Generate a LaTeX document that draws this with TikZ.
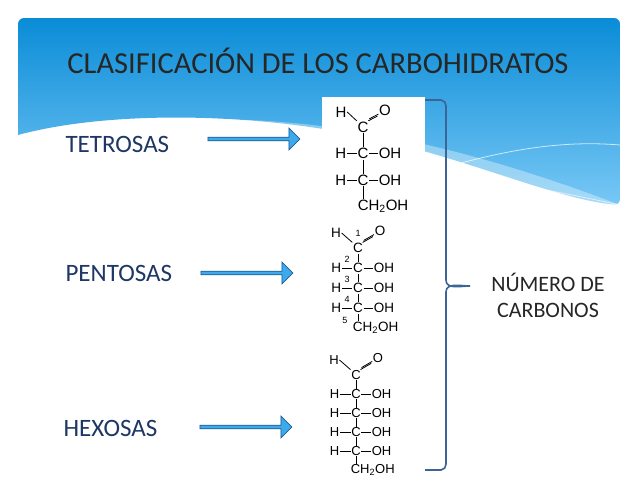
\documentclass[tikz,border=0pt]{standalone}
\usepackage{fontspec}
\setmainfont{Carlito}
\newfontfamily\chemfont{Liberation Sans}
\usetikzlibrary{shapes.arrows}
\definecolor{lbl}{RGB}{30,55,100}
\definecolor{skyA}{RGB}{10,140,215}
\definecolor{skyB}{RGB}{120,200,245}
\definecolor{arrf}{RGB}{60,170,235}
\definecolor{arrd}{RGB}{30,90,150}
\definecolor{brc}{RGB}{60,100,150}
\tikzset{
 lab/.style={font=\fontsize{25}{27}\selectfont, text=lbl, anchor=west},
 blk/.style={single arrow, draw=arrd, fill=arrf, minimum height=92pt, minimum width=22pt, single arrow head extend=2pt, single arrow head indent=0pt, inner sep=0pt, line width=0.8pt},
 atom/.style={font=\chemfont\fontsize{#1}{14}\selectfont, inner sep=0.6pt},
 atom/.default=14,
 bd/.style={line width=0.8pt},
}
% cx, y0, dy, n, prefix, fontsize
\newcommand\sugar[6]{%
 \node[atom=#6] (#5c0) at (#1,#2) {C};
 \node[atom=#6] (#5h0) at (#1-22,#2-15) {H};
 \node[atom=#6] (#5o0) at (#1+22,#2-17) {O};
 \draw[bd] (#5h0.east) -- (#5c0.north west);
 \draw[bd] ([xshift=-1pt]#5c0.north east) -- ([xshift=-1pt]#5o0.south west);
 \draw[bd] ([yshift=2pt]#5c0.north east) -- ([yshift=2pt]#5o0.south west);
 \foreach \k [evaluate=\k as \pk using int(\k-1)] in {1,...,#4}{
  \node[atom=#6] (#5c\k) at (#1,#2+#3*\k) {C};
  \node[atom=#6,anchor=east] (#5h\k) at (#1-16,#2+#3*\k) {H};
  \node[atom=#6,anchor=west] (#5o\k) at (#1+15,#2+#3*\k) {OH};
  \draw[bd] (#5h\k) -- (#5c\k);
  \draw[bd] (#5c\k) -- (#5o\k);
  \draw[bd] (#5c\pk) -- (#5c\k);
 }
 \node[atom=#6,anchor=west] (#5e) at (#1-6,#2+#3*#4+#3) {CH\textsubscript{2}OH};
 \draw[bd] (#5c#4) -- (#5c#4 |- #5e.north);
}
\begin{document}
\begin{tikzpicture}[x=1pt,y=-1pt]
\useasboundingbox (0,0) rectangle (638,479);
\fill[white] (0,0) rectangle (638,479);
% header
\shade[top color=skyA, bottom color=skyB, rounded corners=6pt]
 (18,135) -- (18,18) -- (620,18) -- (620,205) [sharp corners] .. controls (560,200) and (470,160) .. (380,140) .. controls (260,112) and (110,110) .. (18,135);
\fill[white,opacity=0.35] (150,122) .. controls (300,110) and (450,140) .. (620,205) -- (620,215) .. controls (450,160) and (300,125) .. (150,122);
\draw[white,opacity=0.7,line width=0.8pt] (420,175) .. controls (500,150) and (560,140) .. (620,145);
\draw[white,opacity=0.6,line width=0.8pt] (330,160) .. controls (450,170) and (550,190) .. (620,205);
\node[font=\fontsize{30.5}{32}\selectfont, text=black!85] (title) at (318,61) {CLASIFICACIÓN DE LOS CARBOHIDRATOS};
% white panel
\fill[white] (322,97) rectangle (425,470);
% labels
\node[lab] (tet) at (62,144) {TETROSAS};
\node[lab] (pen) at (62,273) {PENTOSAS};
\node[lab] (hex) at (60,428) {HEXOSAS};
\node[blk] (a1) at (253,139) {};
\node[blk] (a2) at (246,273) {};
\node[blk] (a3) at (245,427) {};
% structures
\sugar{363}{127}{26.5}{2}{t}{15}
\sugar{358}{248}{20}{3}{p}{13.5}
\sugar{356}{375}{19}{4}{x}{13}
\foreach \i/\xx/\yy in {1/358/233,2/347/259,3/347/279,4/347/299,5/345/320}{
 \node[atom=9] (n\i) at (\xx,\yy) {\i};}
% brace
\draw[brc,line width=1.6pt] (425,100) -- (441,100) to[out=0,in=90] (446,106) -- (446,280) to[out=-90,in=180] (470,286);
\draw[brc,line width=1.6pt] (470,286) to[out=180,in=90] (446,292) -- (446,464) to[out=-90,in=0] (441,470) -- (425,470);
\node[font=\fontsize{22}{26}\selectfont, text=black!85, align=center] (nc) at (548,295) {NÚMERO DE\\CARBONOS};
\end{tikzpicture}
\end{document}
